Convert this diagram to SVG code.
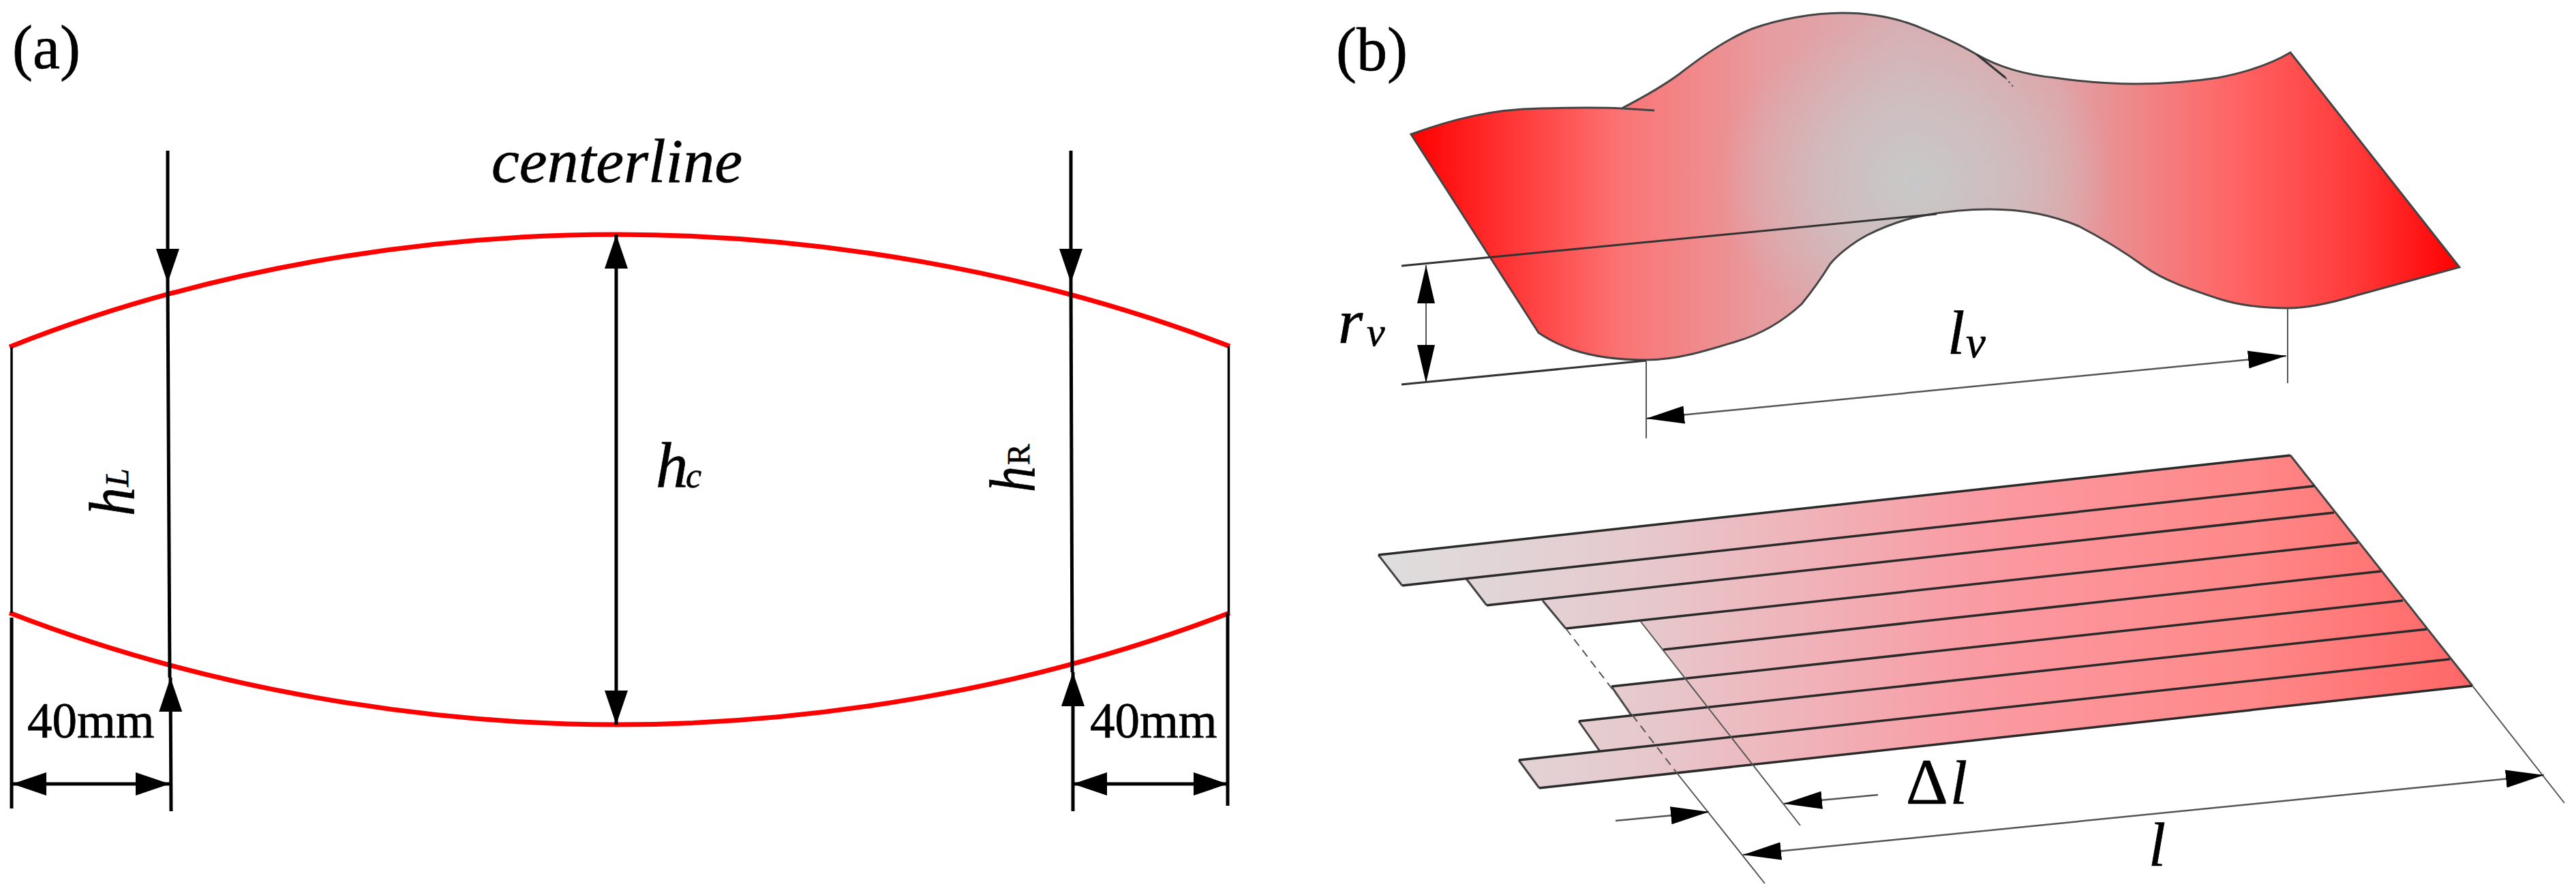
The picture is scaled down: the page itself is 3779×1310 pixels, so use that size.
<svg xmlns="http://www.w3.org/2000/svg" width="3779" height="1310" viewBox="0 0 3779 1310">
<style>
text{font-family:"Liberation Serif","Times New Roman",serif;fill:#000;stroke:#000;stroke-width:.7}
.i{font-style:italic}
.red{fill:none;stroke:#f00;stroke-width:7}
.k{fill:none;stroke:#000;stroke-width:5}
.t{fill:none;stroke:#000;stroke-width:3.500}
.ka{fill:none;stroke:#000;stroke-width:5;marker-end:url(#hA)}
.kb{fill:none;stroke:#000;stroke-width:5;marker-start:url(#hA);marker-end:url(#hA)}
.edge{fill:none;stroke:#444;stroke-width:3}
.strip{fill:none;stroke:#2a2a2a;stroke-width:3.500}
.thin{fill:none;stroke:#555;stroke-width:2}
.line{fill:none;stroke:#333;stroke-width:3}
.ba{fill:none;stroke:#555;stroke-width:2.500;marker-end:url(#hB)}
.bb{fill:none;stroke:#555;stroke-width:2.500;marker-start:url(#hB);marker-end:url(#hB)}
</style>
<defs>
<marker id="hA" markerUnits="userSpaceOnUse" markerWidth="52" markerHeight="36" refX="50" refY="18" orient="auto-start-reverse"><path d="M0,1 L50,18 L0,35 Z" fill="#000"/></marker>
<marker id="hB" markerUnits="userSpaceOnUse" markerWidth="58" markerHeight="28" refX="56" refY="14" orient="auto-start-reverse"><path d="M0,1 L56,14 L0,27 Z" fill="#000"/></marker>
<linearGradient id="gTop" gradientUnits="userSpaceOnUse" x1="2070" y1="0" x2="3608" y2="0">
<stop offset="0" stop-color="#f00"/><stop offset=".12" stop-color="#ff4444"/><stop offset=".2" stop-color="#fb7474"/><stop offset=".34" stop-color="#e69ca0"/><stop offset=".47" stop-color="#d8adb2"/><stop offset=".62" stop-color="#e0a2a6"/><stop offset=".78" stop-color="#ff6666"/><stop offset=".9" stop-color="#ff3a3a"/><stop offset="1" stop-color="#f00"/>
</linearGradient>
<radialGradient id="gCore" gradientUnits="userSpaceOnUse" cx="2810" cy="265" r="290" gradientTransform="translate(2810 265) scale(1 .85) translate(-2810 -265)">
<stop offset="0" stop-color="#c8c8c8" stop-opacity="1"/><stop offset=".5" stop-color="#c8c8c8" stop-opacity=".6"/><stop offset="1" stop-color="#c8c8c8" stop-opacity="0"/>
</radialGradient>
<linearGradient id="gBot" gradientUnits="userSpaceOnUse" x1="2022" y1="0" x2="3627" y2="0">
<stop offset="0" stop-color="#dedede"/><stop offset=".25" stop-color="#e6c8cc"/><stop offset=".55" stop-color="#fa9aa2"/><stop offset=".8" stop-color="#ff8888"/><stop offset="1" stop-color="#ff6666"/>
</linearGradient>
<path id="surf" d="M2070,197 C2130,175 2190,160 2259,159 C2300,158 2340,157 2379,159 C2410,143 2437,128 2463,109 C2500,80 2535,56 2571,42 C2610,28 2660,19 2703,19 C2745,19 2780,26 2811,38 C2840,50 2870,62 2900,80 C2935,100 2975,110 3014,114 C3055,120 3095,123 3134,123 C3175,123 3215,120 3254,114 C3295,106 3330,95 3360,77 L3608,392 L3458,433 C3425,443 3390,452 3356,452 C3320,452 3285,448 3254,438 C3215,425 3175,412 3146,391 C3110,365 3085,350 3050,332 C3010,315 2965,307 2919,307 C2885,307 2855,310 2823,316 C2790,322 2765,332 2739,345 C2715,358 2695,375 2685,387 C2672,408 2660,425 2643,446 C2617,470 2585,490 2547,501 C2505,514 2460,528 2415,528 C2375,528 2340,524 2307,513 C2285,505 2270,497 2257,488 Z"/>
</defs>

<g id="panel-a-labels">
<text x="18" y="100" font-size="90">(a)</text>
<text class="i" x="721" y="267" font-size="92" textLength="368" lengthAdjust="spacing">centerline</text>
<text x="40" y="1082" font-size="73">40mm</text>
<text x="1599" y="1082" font-size="73">40mm</text>
<text class="i" x="962" y="715" font-size="95">h</text>
<text class="i" x="1006" y="715" font-size="52">c</text>
<text class="i" transform="translate(197 757) rotate(-90)" font-size="95" textLength="42" lengthAdjust="spacingAndGlyphs">h</text>
<text class="i" transform="translate(188 714) rotate(-90)" font-size="48">L</text>
<text class="i" transform="translate(1518 722) rotate(-90)" font-size="95" textLength="38" lengthAdjust="spacingAndGlyphs">h</text>
<text transform="translate(1510 682) rotate(-90)" font-size="46">R</text>
</g>

<g id="profile-curves">
<path class="red" d="M14,509 C300,395 620,344 904,344 C1190,344 1510,395 1804,508"/>
<path class="red" d="M14,899 C300,1010 620,1063 904,1063 C1190,1063 1510,1012 1804,899"/>
</g>

<g id="connectors-a">
<path class="t" d="M17,509 V899"/>
<path class="k" d="M17,906 V1186"/>
<path class="t" d="M1802.500,508 V899"/>
<path class="k" d="M1801,899 V1182"/>
<path class="ka" d="M246,221 V415"/>
<path class="k" d="M246,415 L249,994"/>
<path class="ka" d="M251,1190 L250,994"/>
<path class="ka" d="M1571,221 V415"/>
<path class="k" d="M1571,415 L1573,986"/>
<path class="ka" d="M1574,1190 V986"/>
<path class="kb" d="M904,344 V1063"/>
<path class="kb" d="M18,1150 H249"/>
<path class="kb" d="M1574,1150 H1801"/>
</g>

<g id="panel-b-top">
<use href="#surf" fill="url(#gTop)"/>
<use href="#surf" fill="url(#gCore)"/>
<path class="edge" d="M2379,159 C2410,143 2437,128 2463,109 C2500,80 2535,56 2571,42 C2610,28 2660,19 2703,19 C2745,19 2780,26 2811,38 C2840,50 2870,62 2900,80 C2935,100 2975,110 3014,114 C3055,120 3095,123 3134,123 C3175,123 3215,120 3254,114 C3295,106 3330,95 3360,77 L3608,392 L3458,433 C3425,443 3390,452 3356,452 C3320,452 3285,448 3254,438 C3215,425 3175,412 3146,391 C3110,365 3085,350 3050,332 C3010,315 2965,307 2919,307 C2885,307 2855,310 2823,316 C2790,322 2765,332 2739,345 C2715,358 2695,375 2685,387 C2672,408 2660,425 2643,446 C2617,470 2585,490 2547,501 C2505,514 2460,528 2415,528 C2375,528 2340,524 2307,513 C2285,505 2270,497 2257,488 L2070,197 C2130,175 2190,160 2259,159 C2300,158 2340,157 2379,159 L2427,162"/>
<path class="line" d="M2900,80 L2942,114"/>
<path class="thin" stroke-dasharray="3 4" d="M2942,114 L2954,128"/>
</g>

<g id="panel-b-bottom">
<path d="M2022,814 L3360,668 L3627,1006 L2258,1156 L2228,1115 L2347,1102 L2316,1058 L2393,1049 L2364,1007 L2472,995 L2407,912 L2297,922 L2263,881 L2181,888 L2151,849 L2057,859 Z" fill="url(#gBot)"/>
<path class="edge" d="M2022,814 L2057,859 M2151,849 L2181,888 M2263,881 L2297,922 M2364,1007 L2393,1049 M2316,1058 L2347,1102 M2228,1115 L2258,1156 M3360,668 L3627,1006"/>
<path class="strip" d="M2022,814 L3360,668 M2057,859 L3395,713 M2181,888 L3424,752 M2297,922 L3459,796 M2440,953 L3493,838 M2364,1007 L3525,881 M2316,1058 L3560,923 M2228,1115 L3594,967 M2258,1156 L3627,1006"/>
<path class="thin" d="M2407,912 L2641,1211"/>
<path class="thin" stroke-dasharray="12 8" d="M2297,922 L2460,1134"/>
<path class="thin" d="M2460,1134 L2589,1296"/>
<path class="thin" d="M3627,1006 L3762,1178"/>
</g>

<g id="connectors-b">
<path class="line" d="M2056,390 L2841,314"/>
<path class="line" d="M2056,564 L2415,529"/>
<path class="thin" d="M2415,530 V643"/>
<path class="thin" d="M3356,452 V562"/>
<path class="thin" d="M2092,389 V562" marker-start="url(#hB)" marker-end="url(#hB)"/>
<path class="bb" d="M2415,614 L3354,522"/>
<path class="ba" d="M2370,1204 L2507,1191"/>
<path class="ba" d="M2755,1166 L2617,1179"/>
<path class="bb" d="M2557,1254 L3732,1137"/>
</g>

<g id="panel-b-labels">
<text x="1960" y="103" font-size="90">(b)</text>
<text class="i" x="1963" y="503" font-size="93">r</text>
<text class="i" x="2005" y="507" font-size="60">v</text>
<text class="i" x="2857" y="519" font-size="91">l</text>
<text class="i" x="2884" y="524" font-size="65">v</text>
<text x="2796" y="1179" font-size="96">Δ</text>
<text class="i" x="2861" y="1179" font-size="90">l</text>
<text class="i" x="3152" y="1270" font-size="90">l</text>
</g>
</svg>
